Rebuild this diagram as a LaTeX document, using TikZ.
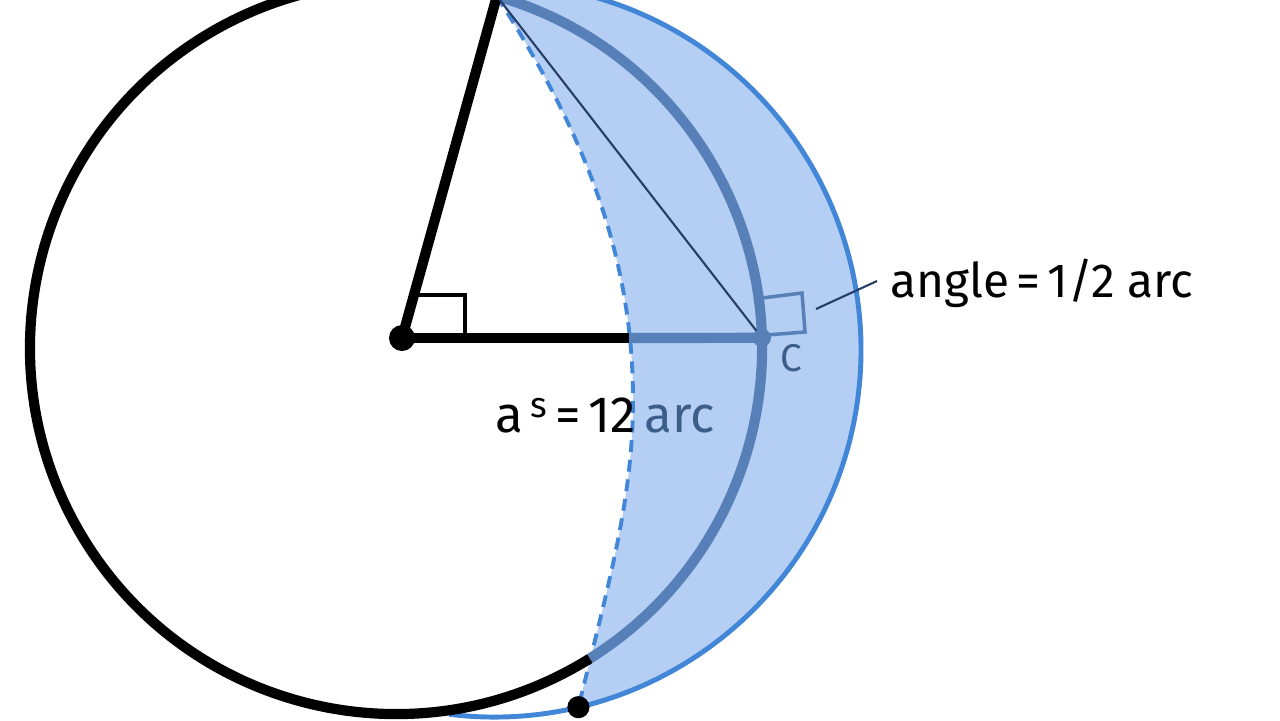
\documentclass[tikz,border=0pt]{standalone}
\usepackage{fontspec}
\setmainfont{Fira Sans}[Numbers=Proportional]
\usepackage{xcolor}
\usepackage{tikz}
\usetikzlibrary{calc}
\definecolor{moonfill}{RGB}{181,206,243}
\definecolor{moonrim}{RGB}{66,134,216}
\definecolor{moonsteel}{RGB}{88,128,184}
\definecolor{moonink}{RGB}{62,94,138}
\definecolor{moonnavy}{RGB}{40,62,105}
\tikzset{
  % The circle and its radii:
  ring/.style={line width=2.9pt,black},
  ringlit/.style={line width=2.9pt,moonsteel},
  spoke/.style={line width=2.9pt,black,line cap=round},
  spokelit/.style={line width=2.9pt,moonsteel},
  % The shaded crescent:
  rim/.style={line width=1.4pt,moonrim},
  seam/.style={line width=1.1pt,moonrim,dash pattern=on 3.4pt off 2.2pt},
  % The rest
  thinchord/.style={line width=0.6pt,moonnavy},
  sqmark/.style={line width=1pt},
  dot/.style={circle,fill,inner sep=0pt,minimum size=#1},
  lbl/.style={inner sep=0pt,font=\fontsize{13.6pt}{16pt}\selectfont}
}

\begin{document}
\begin{tikzpicture}[x=0.01cm,y=-0.01cm]
  \useasboundingbox (0,0) rectangle (1280,720);

  \coordinate (ctr) at (396,348);    % the black circle
  \coordinate (rimc) at (494,350);   % the blue rim
  \coordinate (O) at (402,338);
  \coordinate (A) at ($(ctr)+(-74:366)$);
  \coordinate (B) at ($(ctr)+(58:366)$);
  \coordinate (C) at ($(ctr)+(-1.6:366)$);
  \coordinate (E) at (629,338);
  \coordinate (foot) at ($(rimc)+(76.7:367)$);
  \coordinate (M) at (633,400);      % inner bulge

  % crescent
  \fill[moonfill] (A) .. controls (580,126) and (633,250) .. (M)
    .. controls (633,500) and (608,586) .. (foot)
    arc[start angle=76.7,end angle=-90,radius=367] -- (A) -- cycle;
  \draw[seam] (A) .. controls (580,126) and (633,250) .. (M)
    .. controls (633,500) and (608,586) .. (foot);
  \draw[rim] ($(rimc)+(97:367)$) arc[start angle=97,end angle=-92,radius=367];

  % circle
  \draw[ring] (B) arc[start angle=58,end angle=286,radius=366];
  \draw[ringlit] (A) arc[start angle=-74,end angle=58,radius=366];

  % radii and chord
  \path (O) edge[spoke] (A);
  \path (O) edge[spoke] (E);
  \path (E) edge[spokelit] (C);
  \path (A) edge[thinchord] (C);

  % right angles
  \draw[sqmark] (414,295) -- (465,295) -- (465,338);
  \draw[sqmark,moonsteel] (762,298) -- (802,293) -- (805,332) -- (766,335);

  % points
  \node (Odot) [dot=7.4pt] at (O) {};
  \node (Cdot) [dot=5.2pt,moonsteel] at (C) {};
  \node (footdot) [dot=6.3pt] at (foot) {};

  % labels
  \node (cname) [inner sep=0pt,moonink,font=\fontsize{11pt}{13pt}\selectfont]
    at (791,358) {C};
  \node (rule) [lbl,anchor=base west] at (890,297)
    {angle\kern2pt=\kern2pt1/2 arc};
  \node (chordlaw) [lbl,anchor=base west,font=\fontsize{14.5pt}{17pt}\selectfont]
    at (495,432) {a\kern2pt\raisebox{-1pt}{\textsuperscript{s}}\kern2pt=\kern2pt12\kern2.5pt\textcolor{moonink}{arc}};
  \coordinate (tick) at (816,309);
  \coordinate (lead) at (877,281);
  \path (tick) edge[thinchord] (lead);
\end{tikzpicture}
\end{document}
